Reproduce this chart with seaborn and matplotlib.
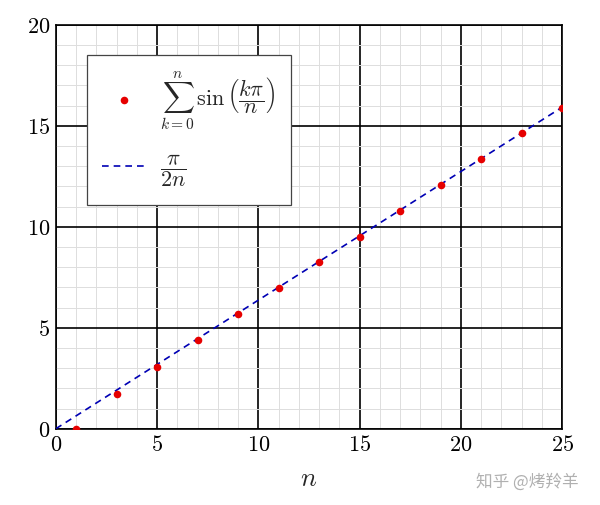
import seaborn as sns
import matplotlib.pyplot as plt
from matplotlib.ticker import MultipleLocator, FuncFormatter

# valores
n_pontos = [1, 3, 5, 7, 9, 11, 13, 15, 17, 19, 21, 23, 25]
soma_seno = [0.0, 1.73, 3.08, 4.38, 5.67, 6.96, 8.24, 9.51, 10.79, 12.07, 13.35, 14.63, 15.89]
n_reta = [0, 25]
y_reta = [0.0, 15.92]

sns.set_theme(style="white")
plt.rcParams['mathtext.fontset'] = 'cm'
plt.rcParams['font.family'] = ['DejaVu Serif']

fig, ax = plt.subplots(figsize=(6, 5.05), dpi=100)
fig.subplots_adjust(left=0.093, right=0.937, top=0.951, bottom=0.151)

sns.scatterplot(x=n_pontos, y=soma_seno, ax=ax, color='#e60000', s=30, linewidth=0,
                label=r'$\sum_{k=0}^{n}\,\sin\left(\dfrac{k\pi}{n}\right)$', zorder=4)
sns.lineplot(x=n_reta, y=y_reta, ax=ax, color='#0000b4', linestyle=(0, (4, 3)), linewidth=1.2,
             label=r'$\dfrac{\pi}{2n}$', zorder=3)

ax.set_xlim(0, 25)
ax.set_ylim(0, 20)
ax.xaxis.set_major_locator(MultipleLocator(5))
ax.yaxis.set_major_locator(MultipleLocator(5))
ax.xaxis.set_minor_locator(MultipleLocator(1))
ax.yaxis.set_minor_locator(MultipleLocator(1))
fmt = FuncFormatter(lambda v, p: f'${v:g}$')
ax.xaxis.set_major_formatter(fmt)
ax.yaxis.set_major_formatter(fmt)
ax.tick_params(axis='both', which='both', length=0, labelsize=16, colors='black', pad=4)

ax.grid(which='major', color='black', linewidth=1.2)
ax.grid(which='minor', color='#dddddd', linewidth=0.7)
ax.set_axisbelow(True)
for s in ax.spines.values():
    s.set_color('black')
    s.set_linewidth(1.2)

ax.set_xlabel(r'$n$', fontsize=19, labelpad=7)
ax.set_ylabel('')

leg = ax.legend(loc='upper left', bbox_to_anchor=(0.061, 0.926), fontsize=16,
                frameon=True, fancybox=False, framealpha=1, edgecolor='#444444',
                borderpad=0.7, labelspacing=0.9, handlelength=2.0, handletextpad=0.6,
                borderaxespad=0)
leg.get_frame().set_linewidth(0.9)

fig.text(0.965, 0.045, '知乎 @烤羚羊', ha='right', va='center', fontsize=12, color='#b0b0b0',
         family=['Noto Sans CJK SC', 'DejaVu Sans'])

plt.savefig('out.png', dpi=100)
plt.close()
